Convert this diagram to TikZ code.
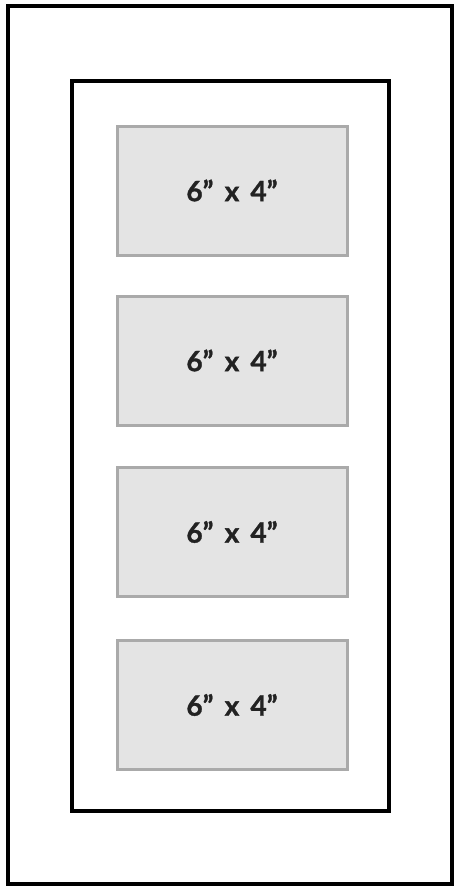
\documentclass[tikz,border=0pt]{standalone}
\usepackage{fontspec}
\setmainfont{Lato}
\usepackage{tikz}
\usetikzlibrary{positioning}
\definecolor{photofill}{HTML}{E4E4E4}
\definecolor{photoline}{HTML}{AAAAAA}
\definecolor{phototext}{HTML}{222222}

\begin{document}
\begin{tikzpicture}[x=1pt, y=-1pt,
	frame/.style={draw=black, line width=4pt, inner sep=0pt},
	photo/.style={draw=photoline, fill=photofill, line width=3pt, minimum width=230pt, minimum height=129pt, inner sep=0pt, text=phototext, font=\fontsize{28}{32}\selectfont\bfseries\addfontfeature{FakeBold=1.2}}]
	\useasboundingbox (0,0) rectangle (454,886);
	% Cadre et passe-partout
	\node[frame, minimum width=444pt, minimum height=878pt] (outer) at (230,445) {};
	\node[frame, minimum width=317pt, minimum height=730pt] (mat) at (230.5,446) {};
	% Ouvertures photo
	\node[photo] (P1) at (232,190.5) {6”\hspace{0.4em}x\hspace{0.4em}4”};
	\node[photo] (P2) at (232,360.5) {6”\hspace{0.4em}x\hspace{0.4em}4”};
	\node[photo] (P3) at (232,532) {6”\hspace{0.4em}x\hspace{0.4em}4”};
	\node[photo] (P4) at (232,705) {6”\hspace{0.4em}x\hspace{0.4em}4”};
\end{tikzpicture}
\end{document}
